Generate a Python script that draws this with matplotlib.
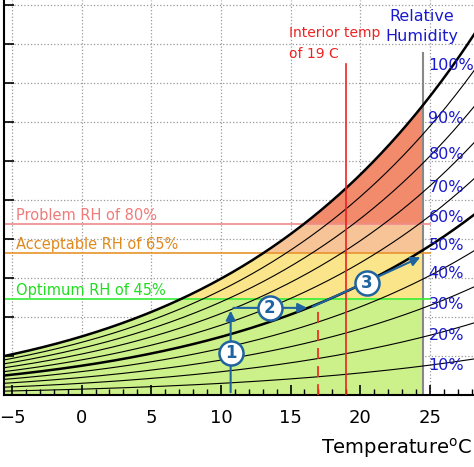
import numpy as np
import matplotlib
matplotlib.use("Agg")
import matplotlib.pyplot as plt

rh_levels = [10, 20, 30, 40, 50, 60, 70, 80, 90, 100]
thick_levels = [50, 100]
rh_label_y = [1.9, 3.8, 5.8, 7.8, 9.6, 11.4, 13.3, 15.4, 17.7, 21.1]
problem_y, acceptable_y, optimum_y = 10.96, 9.1, 6.15
interior_temp = 19
dashed_temp, dashed_top = 17, 5.6
room_temp = 24.5
arrow_path_x = [10.7, 10.7, 16.4, 24.5]
arrow_path_y = [0.0, 5.58, 5.58, 8.9]
circle_x = [10.7, 13.5, 20.5]
circle_y = [2.7, 5.58, 7.2]
circle_labels = ["1", "2", "3"]

def ws(t):
    e = 0.6112 * np.exp(17.62 * t / (243.12 + t))
    return 622 * e / (101.325 - e) * (1 - 0.0015 * np.clip(t + 5, 0, None))

fig = plt.figure(figsize=(4.74, 4.67), dpi=100)
ax = fig.add_axes([4/474, 72/467, 470/474, 395/467])
ax.set_xlim(-5.57, 28.17)
ax.set_ylim(0, 25.3)

T = np.linspace(-6, 29, 400)
Tf = np.linspace(-5.57, room_temp, 300)
sat = ws(Tf)
bands = [(0, optimum_y, "#ccf08a"), (optimum_y, acceptable_y, "#fbe58a"),
         (acceptable_y, problem_y, "#f6c497"), (problem_y, 40, "#f28a6c")]
for lo, hi, c in bands:
    ax.fill_between(Tf, np.full_like(Tf, lo), np.clip(sat, lo, hi), where=sat > lo, color=c, lw=0, zorder=1)

for x in range(-5, 30, 5):
    ax.axvline(x, color="#999999", ls=":", lw=0.9, zorder=0.5)
for y in np.arange(2.5, 25.3, 2.5):
    ax.axhline(y, color="#999999", ls=":", lw=0.9, zorder=0.5)

for rh in rh_levels:
    lw = 1.8 if rh in thick_levels else 0.8
    ax.plot(T, ws(T) * rh / 100, color="black", lw=lw, zorder=3)

ax.plot([room_temp, room_temp], [0, 21.9], color="#888888", lw=1.5, zorder=2)
ax.plot([-5.57, 25], [problem_y]*2, color="#f08a8a", lw=1.2, zorder=2.5)
ax.plot([-5.57, 25], [acceptable_y]*2, color="#e8942a", lw=1.2, zorder=2.5)
ax.plot([-5.57, 25], [optimum_y]*2, color="#33ee33", lw=1.2, zorder=2.5)
ax.text(-4.7, problem_y + 0.25, "Problem RH of 80%", color="#f07b7b", fontsize=10.5, zorder=4)
ax.text(-4.7, acceptable_y + 0.25, "Acceptable RH of 65%", color="#e08a1e", fontsize=10.5, zorder=4)
ax.text(-4.7, optimum_y + 0.25, "Optimum RH of 45%", color="#22dd22", fontsize=10.5, zorder=4)

ax.plot([interior_temp]*2, [0, 21.2], color="#ee2222", lw=1.2, zorder=4)
ax.text(14.9, 21.6, "Interior temp\nof 19 C", color="#ee2222", fontsize=10, linespacing=1.6, zorder=4)
ax.plot([dashed_temp]*2, [0, dashed_top], color="#ee3322", lw=1.3, ls=(0, (6, 4)), zorder=4)

blue = "#1f64a0"
for i in range(3):
    ax.annotate("", xy=(arrow_path_x[i+1], arrow_path_y[i+1]), xytext=(arrow_path_x[i], arrow_path_y[i]),
                arrowprops=dict(arrowstyle="-|>", color=blue, lw=1.5, mutation_scale=14), zorder=5)
for x, y, s in zip(circle_x, circle_y, circle_labels):
    ax.scatter([x], [y], s=300, facecolor="white", edgecolor=blue, lw=1.8, zorder=6)
    ax.text(x, y, s, color=blue, fontsize=12, fontweight="bold", ha="center", va="center", zorder=7)

for rh, y in zip(rh_levels, rh_label_y):
    ax.text(24.9, y, f"{rh}%", color="#1a1acc", fontsize=11.5, va="center", zorder=5)
ax.text(24.4, 23.6, "Relative\nHumidity", color="#1a1acc", fontsize=11.5, ha="center", va="center", linespacing=1.4)

for s in ["top", "right"]:
    ax.spines[s].set_visible(False)
ax.spines["left"].set_linewidth(1.5)
ax.spines["bottom"].set_linewidth(1.5)
ax.set_xticks(range(-5, 30, 5))
ax.set_xticks(range(-5, 29), minor=True)
ax.set_yticks(np.arange(0, 25.3, 2.5))
ax.set_yticklabels([])
ax.tick_params(direction="in", length=7, width=1.2, labelsize=13)
ax.tick_params(which="minor", direction="in", length=4, width=1)
ax.tick_params(axis="x", pad=10)
fig.text(0.995, 0.015, "Temperature$^{\\rm o}$C", ha="right", va="bottom", fontsize=14)
fig.savefig("out.png", dpi=100)
